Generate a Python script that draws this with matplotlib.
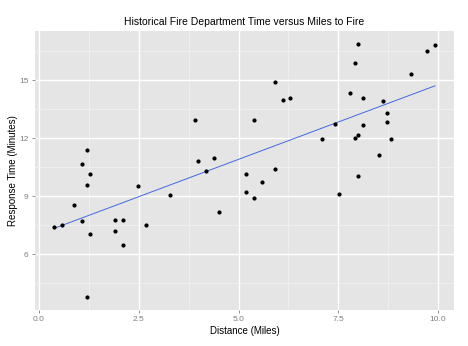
import numpy as np
import matplotlib
matplotlib.use("Agg")
import matplotlib.pyplot as plt

# distance (miles) and response time (minutes)
distance = [0.38, 0.58, 0.89, 1.09, 1.20, 1.09, 1.28, 1.20, 1.28, 1.20,
            1.90, 2.10, 1.90, 2.10, 2.49, 2.69, 3.28, 3.90, 3.99, 4.39,
            4.19, 4.51, 5.20, 5.20, 5.40, 5.40, 5.59, 5.91, 5.91, 6.11,
            6.30, 7.10, 7.41, 7.51, 7.80, 7.91, 8.00, 7.91, 8.00, 8.11,
            8.11, 8.00, 8.51, 8.62, 8.71, 8.71, 8.82, 9.32, 9.72, 9.92]
response = [7.43, 7.51, 8.53, 7.71, 11.41, 10.67, 10.14, 9.57, 7.07, 3.77,
            7.76, 7.79, 7.22, 6.48, 9.52, 7.51, 9.07, 12.93, 10.83, 11.00,
            10.29, 8.17, 10.14, 9.22, 12.93, 8.90, 9.76, 10.41, 14.93, 13.98,
            14.07, 11.98, 12.76, 9.10, 14.36, 15.91, 16.89, 12.01, 12.17, 12.67,
            14.07, 10.05, 11.15, 13.95, 13.33, 12.84, 11.98, 15.31, 16.53, 16.83]

x_ticks = [0.0, 2.5, 5.0, 7.5, 10.0]
y_ticks = [6, 9, 12, 15]

plt.rcParams["font.family"] = ["Liberation Sans", "DejaVu Sans"]

x = np.array(distance)
y = np.array(response)

fig = plt.figure(figsize=(4.68, 3.46), dpi=100)
ax = fig.add_axes([35 / 468, 36 / 346, 419 / 468, 279 / 346])
ax.set_facecolor("#e5e5e5")

# ggplot style expansion of 5%
xr = x.max() - x.min()
yr = y.max() - y.min()
ax.set_xlim(x.min() - 0.05 * xr, x.max() + 0.05 * xr)
ax.set_ylim(y.min() - 0.05 * yr, y.max() + 0.05 * yr)

ax.set_xticks(x_ticks)
ax.set_xticklabels([f"{v:.1f}" for v in x_ticks])
ax.set_yticks(y_ticks)
ax.set_xticks([1.25, 3.75, 6.25, 8.75], minor=True)
ax.set_yticks([4.5, 7.5, 10.5, 13.5, 16.5], minor=True)
ax.grid(which="major", color="white", lw=1.0)
ax.grid(which="minor", color="#f2f2f2", lw=0.5)
ax.set_axisbelow(True)
for s in ax.spines.values():
    s.set_visible(False)
ax.tick_params(which="major", length=2.5, width=0.6, color="#7f7f7f",
               labelsize=6, labelcolor="#7f7f7f", pad=2)
ax.tick_params(which="minor", length=0)

# linear fit
b, a = np.polyfit(x, y, 1)
xs = np.linspace(x.min(), x.max(), 80)
ax.plot(xs, a + b * xs, color="#4169e1", lw=0.7, zorder=2)

ax.scatter(x, y, s=4, color="black", zorder=3)

ax.set_title("Historical Fire Department Time versus Miles to Fire",
             fontsize=7.5, pad=4)
ax.set_xlabel("Distance (Miles)", fontsize=7, labelpad=2)
ax.set_ylabel("Response Time (Minutes)", fontsize=7, labelpad=1)

fig.savefig("out.png", dpi=100, facecolor="white")
